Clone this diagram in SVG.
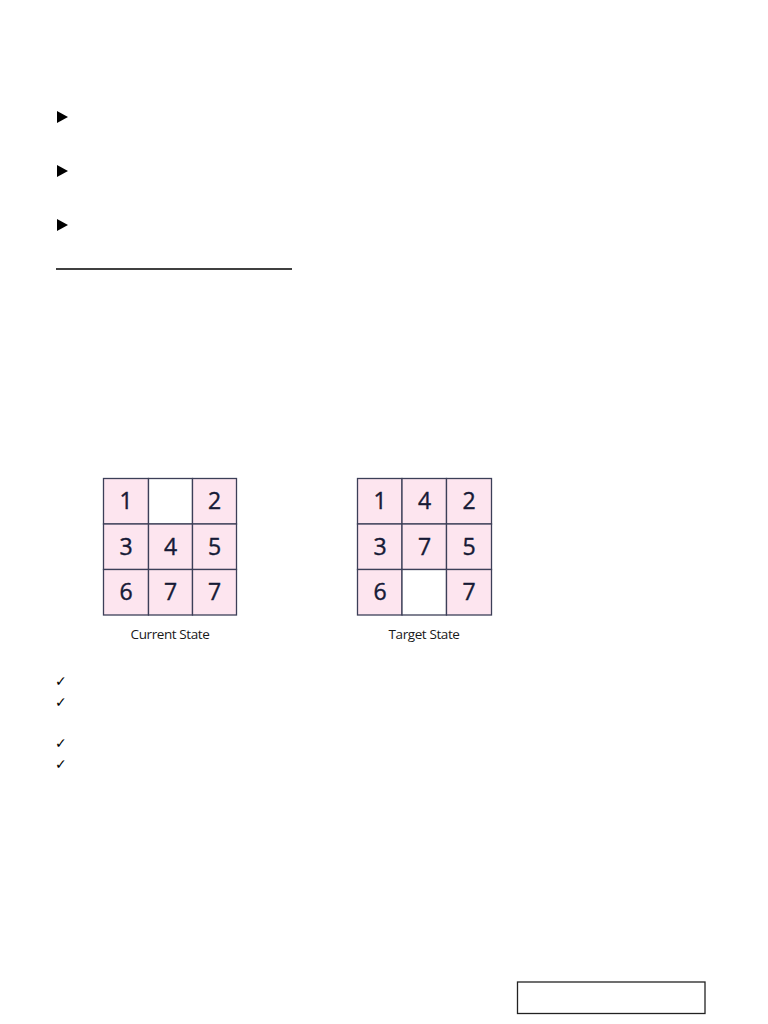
<svg xmlns="http://www.w3.org/2000/svg" width="768" height="1024" viewBox="0 0 768 1024">
<style>
.cell{fill:#fde5ef;stroke:#3c3f58;stroke-width:1.3}
.blank{fill:#ffffff;stroke:#3c3f58;stroke-width:1.3}
.num{font-family:"Open Sans","Noto Sans",sans-serif;font-size:23px;fill:#161a36;text-anchor:middle;stroke:#161a36;stroke-width:0.4}
.cap{font-family:"Open Sans","Noto Sans",sans-serif;font-size:13.5px;fill:#1a1a1a;text-anchor:middle;letter-spacing:-0.4px}
.chk{font-family:"DejaVu Sans",sans-serif;font-size:14px;font-weight:bold;fill:#000}
</style>
<defs>
<polygon id="tri" points="0,0 11,6 0,12" fill="#000"/>
</defs>
<g id="bullets">
<use href="#tri" x="57" y="111"/>
<use href="#tri" x="57" y="165"/>
<use href="#tri" x="57" y="219"/>
</g>
<line x1="56" y1="269" x2="292" y2="269" stroke="#000" stroke-width="1.5"/>
<g id="current">
<rect class="cell" x="103.5" y="478.5" width="45" height="45.5"/>
<rect class="blank" x="148.5" y="478.5" width="44" height="45.5"/>
<rect class="cell" x="192.5" y="478.5" width="44" height="45.5"/>
<rect class="cell" x="103.5" y="524" width="45" height="45.5"/>
<rect class="cell" x="148.5" y="524" width="44" height="45.5"/>
<rect class="cell" x="192.5" y="524" width="44" height="45.5"/>
<rect class="cell" x="103.5" y="569.5" width="45" height="45.5"/>
<rect class="cell" x="148.5" y="569.5" width="44" height="45.5"/>
<rect class="cell" x="192.5" y="569.5" width="44" height="45.5"/>
<text class="num" x="126" y="509">1</text>
<text class="num" x="214.5" y="509">2</text>
<text class="num" x="126" y="555">3</text>
<text class="num" x="170.5" y="555">4</text>
<text class="num" x="214.5" y="555">5</text>
<text class="num" x="126" y="600">6</text>
<text class="num" x="170.5" y="600">7</text>
<text class="num" x="214.5" y="600">7</text>
<text class="cap" x="170" y="639">Current State</text>
</g>
<g id="target">
<rect class="cell" x="357.5" y="478.5" width="44.5" height="45.5"/>
<rect class="cell" x="402" y="478.5" width="44.5" height="45.5"/>
<rect class="cell" x="446.5" y="478.5" width="45" height="45.5"/>
<rect class="cell" x="357.5" y="524" width="44.5" height="45.5"/>
<rect class="cell" x="402" y="524" width="44.5" height="45.5"/>
<rect class="cell" x="446.5" y="524" width="45" height="45.5"/>
<rect class="cell" x="357.5" y="569.5" width="44.5" height="45.5"/>
<rect class="blank" x="402" y="569.5" width="44.5" height="45.5"/>
<rect class="cell" x="446.5" y="569.5" width="45" height="45.5"/>
<text class="num" x="380" y="509">1</text>
<text class="num" x="424.5" y="509">4</text>
<text class="num" x="469" y="509">2</text>
<text class="num" x="380" y="555">3</text>
<text class="num" x="424.5" y="555">7</text>
<text class="num" x="469" y="555">5</text>
<text class="num" x="380" y="600">6</text>
<text class="num" x="469" y="600">7</text>
<text class="cap" x="424" y="639">Target State</text>
</g>
<g id="checks">
<text class="chk" x="55" y="686">✓</text>
<text class="chk" x="55" y="707">✓</text>
<text class="chk" x="55" y="748">✓</text>
<text class="chk" x="55" y="769">✓</text>
</g>
<rect id="box" x="517.5" y="982" width="187.5" height="31.5" fill="none" stroke="#222" stroke-width="1.3"/>
</svg>
